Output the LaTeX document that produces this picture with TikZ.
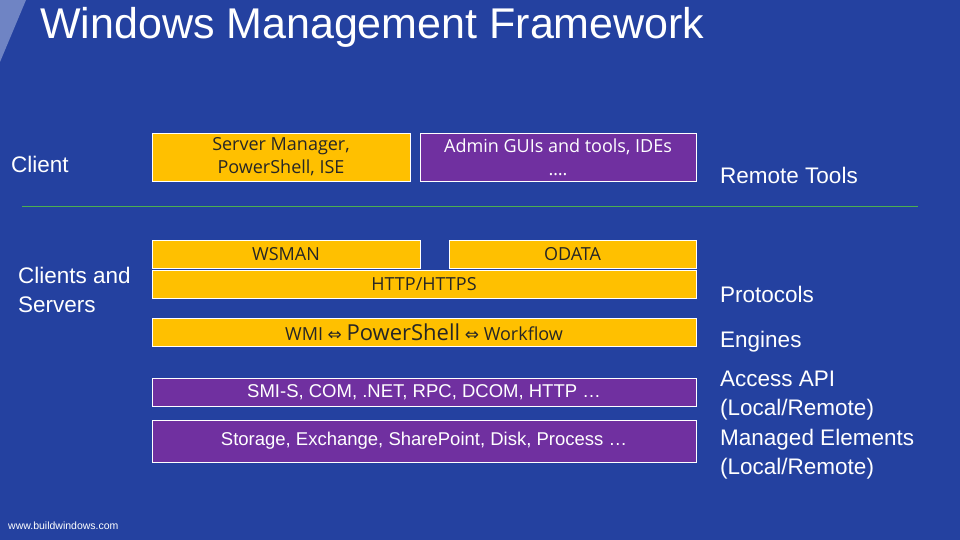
\documentclass[tikz,border=0pt]{standalone}
\usepackage{fontspec}
\setmainfont{Liberation Sans}
\newfontfamily\segoe{Open Sans}
\newfontfamily\dej{DejaVu Sans}
\definecolor{bg}{HTML}{2441A0}
\definecolor{ylw}{HTML}{FFC000}
\definecolor{prp}{HTML}{7030A0}
\definecolor{tri}{HTML}{6F84C4}
\definecolor{grn}{HTML}{4CAF50}
\tikzset{
 ybox/.style={draw=white, line width=0.8pt, fill=ylw, text=black!85, font=\segoe\fontsize{18}{20}\selectfont, align=center, inner sep=0pt},
 pbox/.style={draw=white!80, line width=0.8pt, fill=prp, text=white, font=\fontsize{18.5}{20}\selectfont, align=center, inner sep=0pt},
 lbl/.style={text=white, anchor=west, font=\fontsize{22.5}{29}\selectfont, align=left, inner sep=0pt},
}
\begin{document}
\begin{tikzpicture}[x=1pt,y=-1pt]
\fill[bg] (0,0) rectangle (960,540);
\useasboundingbox (0,0) rectangle (960,540);
\fill[tri] (0,0) -- (26,0) -- (0,62) -- cycle;
\node[text=white, anchor=west, inner sep=0pt, font=\fontsize{43}{48}\selectfont] (title) at (40,27) {Windows Management Framework};

\node[ybox, minimum width=258, minimum height=48, font=\segoe\fontsize{18}{23}\selectfont] (sm) at (281,157) {Server Manager,\\PowerShell, ISE};
\node[pbox, minimum width=276, minimum height=48, font=\segoe\fontsize{18}{23}\selectfont] (adm) at (558,157) {Admin GUIs and tools, IDEs\\\dots.};

\coordinate (l1) at (22,206); \coordinate (l2) at (918,206);
\draw[grn, line width=0.6pt] (l1) -- (l2);

\node[ybox, minimum width=268, minimum height=28] (ws) at (286,254) {WSMAN};
\node[ybox, minimum width=247, minimum height=28] (od) at (572.5,254) {ODATA};
\node[ybox, minimum width=544, minimum height=28] (http) at (424,284) {HTTP/HTTPS};
\node[ybox, minimum width=544, minimum height=28] (wmi) at (424,332) {WMI {\dej\fontsize{17}{16}\selectfont ⇔} {\fontsize{22}{22}\selectfont PowerShell} {\dej\fontsize{17}{16}\selectfont ⇔} Workflow};
\node[pbox, minimum width=544, minimum height=28] (smi) at (424,392) {SMI-S, COM, .NET, RPC, DCOM, HTTP \dots};
\node[pbox, minimum width=544, minimum height=42] (stor) at (424,441) {Storage, Exchange, SharePoint, Disk, Process \dots};

\node[lbl] (cl) at (11,164) {Client};
\node[lbl] (cs) at (18,290) {Clients and\\Servers};
\node[lbl] (rt) at (720,175) {Remote Tools};
\node[lbl] (pr) at (720,294) {Protocols};
\node[lbl] (en) at (720,342) {Engines};
\node[lbl] (ap) at (720,396) {Access API\\(Local/Remote)};
\node[lbl] (me) at (720,454) {Managed Elements\\(Local/Remote)};
\node[text=white, anchor=west, inner sep=0pt, font=\fontsize{10.5}{12}\selectfont] (www) at (8,526) {www.buildwindows.com};
\end{tikzpicture}
\end{document}
